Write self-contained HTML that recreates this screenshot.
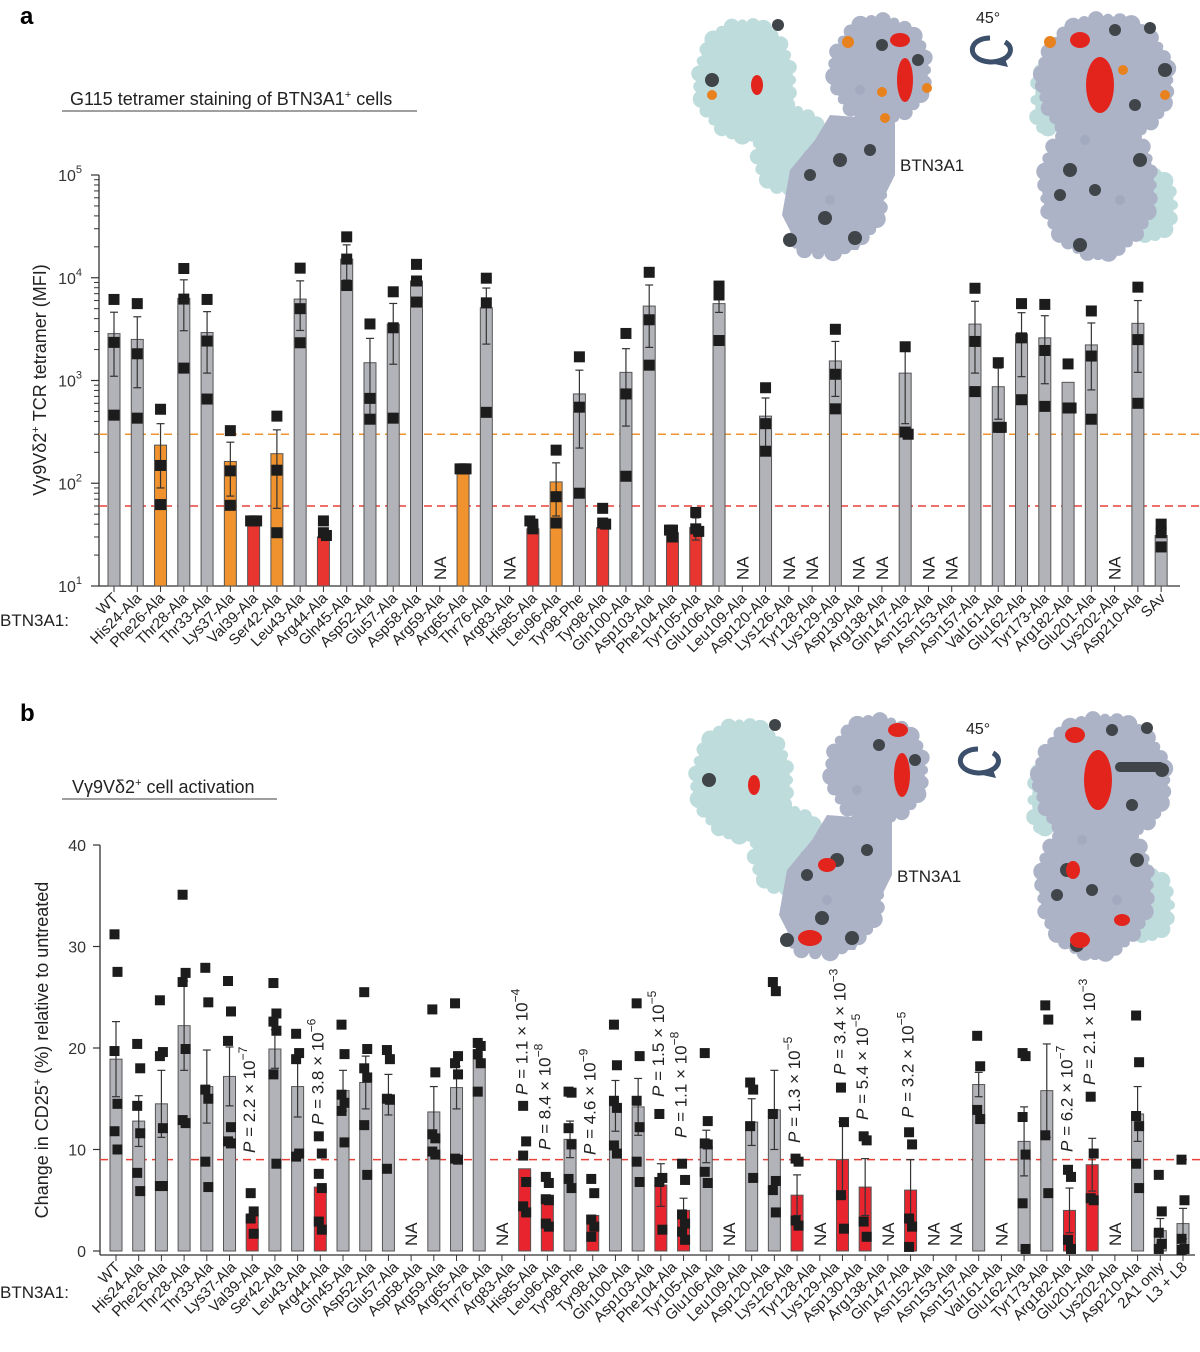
<!DOCTYPE html>
<html><head><meta charset="utf-8">
<style>
html,body{margin:0;padding:0;background:#fff;}
svg{display:block;font-family:"Liberation Sans",Arial,sans-serif;}
</style></head>
<body>
<svg id="fig" width="1200" height="1352" viewBox="0 0 1200 1352" xmlns="http://www.w3.org/2000/svg">
<defs>
  <g id="protA">
    <ellipse class="blob" cx="745" cy="80" rx="48" ry="58" fill="#bfdcdc"/>
    <ellipse class="blob" cx="790" cy="150" rx="34" ry="42" fill="#bfdcdc"/>
    <ellipse class="blob" cx="880" cy="70" rx="48" ry="52" fill="#acb3c7"/>
    <path d="M830,115 L895,120 L895,175 L870,225 L858,250 L800,250 L782,215 L790,170 L815,140 Z" fill="#acb3c7"/>
    <ellipse class="blob" cx="838" cy="195" rx="46" ry="52" fill="#acb3c7"/>
    <ellipse class="blob" cx="822" cy="240" rx="28" ry="14" fill="#acb3c7"/>
    <ellipse class="blob" cx="1045" cy="100" rx="10" ry="30" fill="#bfdcdc"/>
    <ellipse class="blob" cx="1150" cy="205" rx="24" ry="32" fill="#bfdcdc"/>
    <ellipse class="blob" cx="1105" cy="80" rx="66" ry="64" fill="#acb3c7"/>
    <ellipse class="blob" cx="1098" cy="185" rx="56" ry="72" fill="#acb3c7"/>
    <g fill="#9aa2b8" opacity="0.5">
      <circle cx="860" cy="90" r="5"/><circle cx="830" cy="200" r="5"/><circle cx="1085" cy="140" r="5"/><circle cx="1120" cy="200" r="5"/>
    </g>
    <g fill="#3f4548">
      <circle cx="712" cy="80" r="7"/><circle cx="778" cy="25" r="6"/><circle cx="840" cy="160" r="7"/>
      <circle cx="870" cy="150" r="6"/><circle cx="810" cy="175" r="6"/><circle cx="825" cy="218" r="7"/>
      <circle cx="790" cy="240" r="7"/><circle cx="855" cy="238" r="7"/><circle cx="882" cy="45" r="6"/>
      <circle cx="918" cy="60" r="6"/><circle cx="1115" cy="30" r="6"/><circle cx="1150" cy="28" r="6"/>
      <circle cx="1165" cy="70" r="7"/><circle cx="1140" cy="160" r="7"/><circle cx="1070" cy="170" r="7"/>
      <circle cx="1095" cy="190" r="6"/><circle cx="1060" cy="195" r="6"/><circle cx="1080" cy="245" r="7"/>
      <circle cx="1135" cy="105" r="6"/>
    </g>
  </g>
</defs>

<text x="20" y="24" font-size="24" font-weight="bold">a</text>
<text x="70" y="105" font-size="18" fill="#222">G115 tetramer staining of BTN3A1<tspan font-size="11" dy="-7">+</tspan><tspan dy="7"> cells</tspan></text>
<line x1="62" y1="111" x2="417" y2="111" stroke="#666" stroke-width="1.2"/>
<text x="20" y="721" font-size="24" font-weight="bold">b</text>
<text x="72" y="793" font-size="18" fill="#222">Vγ9Vδ2<tspan font-size="11" dy="-7">+</tspan><tspan dy="7"> cell activation</tspan></text>
<line x1="62" y1="799" x2="277" y2="799" stroke="#666" stroke-width="1.2"/>

<g>
  <use href="#protA"/>
  <g fill="#e3241d">
    <ellipse cx="757" cy="85" rx="6" ry="10"/><ellipse cx="900" cy="40" rx="10" ry="7"/>
    <ellipse cx="905" cy="80" rx="8" ry="22"/><ellipse cx="1080" cy="40" rx="10" ry="8"/>
    <ellipse cx="1100" cy="85" rx="14" ry="28"/>
  </g>
  <g fill="#e8821e">
    <circle cx="712" cy="95" r="5"/><circle cx="848" cy="42" r="6"/><circle cx="927" cy="88" r="5"/>
    <circle cx="1050" cy="42" r="6"/><circle cx="1123" cy="70" r="5"/><circle cx="1165" cy="95" r="5"/>
    <circle cx="885" cy="118" r="5"/><circle cx="882" cy="92" r="5"/>
  </g>
  <text x="900" y="171" font-size="17" fill="#222">BTN3A1</text>
  <text x="976" y="23" font-size="16" fill="#222">45°</text>
  <path d="M990,38 C968,38 965,60 990,62 C1010,62 1016,48 1005,42" fill="none" stroke="#3c4f6b" stroke-width="5"/>
  <path d="M1004,56 L1008,67 L990,63 Z" fill="#3c4f6b"/>
</g>
<g>
  <use href="#protA" transform="translate(-3,700)"/>
  <g fill="#e3241d">
    <ellipse cx="754" cy="785" rx="6" ry="10"/><ellipse cx="898" cy="730" rx="10" ry="7"/>
    <ellipse cx="902" cy="775" rx="8" ry="22"/><ellipse cx="827" cy="865" rx="9" ry="7"/>
    <ellipse cx="810" cy="938" rx="12" ry="8"/><ellipse cx="1075" cy="735" rx="10" ry="8"/>
    <ellipse cx="1098" cy="780" rx="14" ry="30"/><ellipse cx="1073" cy="870" rx="7" ry="9"/>
    <ellipse cx="1080" cy="940" rx="10" ry="8"/><ellipse cx="1122" cy="920" rx="8" ry="6"/>
  </g>
  <rect x="1115" y="762" width="50" height="10" rx="5" fill="#3f4548"/>
  <text x="897" y="882" font-size="17" fill="#222">BTN3A1</text>
  <text x="966" y="734" font-size="16" fill="#222">45°</text>
  <path d="M978,749 C956,749 953,771 978,773 C998,773 1004,759 993,753" fill="none" stroke="#3c4f6b" stroke-width="5"/>
  <path d="M992,767 L996,778 L978,774 Z" fill="#3c4f6b"/>
</g>

<g id="chartA"></g>
<g id="chartB"></g>
</svg>

<script>
const catsA = ["WT","His24-Ala","Phe26-Ala","Thr28-Ala","Thr33-Ala","Lys37-Ala","Val39-Ala","Ser42-Ala","Leu43-Ala","Arg44-Ala","Gln45-Ala","Asp52-Ala","Glu57-Ala","Asp58-Ala","Arg59-Ala","Arg65-Ala","Thr76-Ala","Arg83-Ala","His85-Ala","Leu96-Ala","Tyr98-Phe","Tyr98-Ala","Gln100-Ala","Asp103-Ala","Phe104-Ala","Tyr105-Ala","Glu106-Ala","Leu109-Ala","Asp120-Ala","Lys126-Ala","Tyr128-Ala","Lys129-Ala","Asp130-Ala","Arg138-Ala","Gln147-Ala","Asn152-Ala","Asn153-Ala","Asn157-Ala","Val161-Ala","Glu162-Ala","Tyr173-Ala","Arg182-Ala","Glu201-Ala","Lys202-Ala","Asp210-Ala","SAv"];
const meanA = [2860,2510,235,6300,2930,163,41,194,6200,30,15200,1490,3530,9300,null,128,5100,null,36,103,740,37,1200,5300,33,37,5600,null,450,null,null,1550,null,null,1180,null,null,3540,870,2830,2600,960,2220,null,3600,31];
const semA = [1760,1660,145,3250,1750,88,0,137,3130,0,5700,1080,2090,0,0,0,2840,0,0,55,520,0,840,3200,0,9,1000,0,226,0,0,850,0,0,800,0,0,2360,450,1740,1670,0,1410,0,2400,0];
const ptsA = [[6150,2350,460],[5600,1820,430],[525,149,62],[12300,6200,1320],[6150,2420,660],[325,132,61],[43,43,43],[450,134,33],[12400,5000,2330],[43,33,31],[25000,15200,8400],[3550,670,420],[7300,3260,430],[13500,9300,5800],[],[138,138,138],[9900,5700,490],[],[43,40,36],[210,74,41],[1700,550,80],[57,41,40],[2870,740,117],[11300,3900,1410],[35,35,30],[52,36,34],[8300,6800,2450],[],[850,380,205],[],[],[3150,1150,530],[],[],[2130,315,300],[],[],[7900,2400,780],[1490,350,350],[5600,2600,650],[5500,1960,560],[1450,540,540],[4750,1730,420],[],[8100,2500,600],[40,33,24]];
const groupA = ["g","g","o","g","g","o","r","o","g","r","g","g","g","g","n","o","g","n","r","o","g","r","g","g","r","r","g","n","g","n","n","g","n","n","g","n","n","g","g","g","g","g","g","n","g","g"];
const thresholdsA = [300,60];
const tickExpA = [1,2,3,4,5];

const labelsB = ["WT","His24-Ala","Phe26-Ala","Thr28-Ala","Thr33-Ala","Lys37-Ala","Val39-Ala","Ser42-Ala","Leu43-Ala","Arg44-Ala","Gln45-Ala","Asp52-Ala","Glu57-Ala","Asp58-Ala","Arg59-Ala","Arg65-Ala","Thr76-Ala","Arg83-Ala","His85-Ala","Leu96-Ala","Tyr98-Phe","Tyr98-Ala","Gln100-Ala","Asp103-Ala","Phe104-Ala","Tyr105-Ala","Glu106-Ala","Leu109-Ala","Asp120-Ala","Lys126-Ala","Tyr128-Ala","Lys129-Ala","Asp130-Ala","Arg138-Ala","Gln147-Ala","Asn152-Ala","Asn153-Ala","Asn157-Ala","Val161-Ala","Glu162-Ala","Tyr173-Ala","Arg182-Ala","Glu201-Ala","Lys202-Ala","Asp210-Ala","2A1 only","L3 + L8"];
const meanB = [18.9,12.8,14.5,22.2,16.2,17.2,3.5,19.9,16.2,6.3,15.8,16.6,15.4,null,13.7,16.1,18.9,null,8.1,5.5,11,3.5,14.3,14.2,6.5,4.0,10.3,null,12.7,13.9,5.5,null,9.0,6.3,null,6.0,null,null,16.4,null,10.8,15.8,4.0,8.5,null,13.5,2.0,2.7];
const semB = [3.7,2.5,3.3,4.4,3.6,2.9,0,1.9,3.0,0,2.0,2.6,2.0,0,2.5,2.1,0,0,0,0,1.8,0,2.5,2.8,2.1,1.2,1.6,0,2.3,3.9,2.0,0,3.7,2.8,0,3.0,0,0,1.2,0,3.4,4.6,2.2,2.6,0,2.7,1.2,1.5];
const ptsB = [[31.2,27.5,19.7,14.5,11.8,10],[20.4,18,14.3,11.6,7.7,5.9],[24.7,19.6,19.2,12.1,6.4,6.4],[35.1,27.4,26.5,19.9,12.9,12.6],[27.9,24.5,15.9,15,8.8,6.3],[26.6,23.6,20.7,12.2,10.8,10.6],[5.7,3.9,3.2,1.7],[26.4,23.4,22.6,21.7,17.4,8.6],[21.4,19.5,18.9,9.6,9.3],[11.3,9.6,7.6,6.2,2.9,2.1],[22.3,19.4,15.4,14.6,13.8,10.7],[25.5,19.9,18,17.1,12.4,7.5],[19.8,18.9,15,14.9,8.1],[],[23.8,17.6,11.5,11.1,9.8,9.5],[24.4,19.2,18.5,17.4,9.1,9],[20.5,20.2,19.4,18.5,15.7],[],[14.3,10.8,9.4,6.8,4.4,3.8],[7.3,6.7,5.1,5,2.7,2.4],[15.7,15.6,12.1,10.5,7.1,6.2],[7.1,5.7,3.1,2.4,1.4],[22.3,18.3,14.8,14.1,10.4,9.6],[24.4,19.2,14.8,12.2,8.8,6.8],[13.5,7.2,6.8,2.1],[8.6,7,3.6,2.7,1.9,1.1],[19.5,12.8,10.6,10.5,7.8,6.7],[],[16.6,15.9,12.3,7.2],[26.5,25.6,13.5,6.9,6,3.8],[9.1,8.8,3,2.5],[],[16.1,12.7,5.5,2.2],[11.3,10.9,2.9,1.4],[],[11.7,10.5,3.2,2.4,0.4],[],[],[21.2,18.2,13.9,13],[],[19.5,19.2,13.2,9.5,4.7,0.2],[24.2,22.8,11.4,5.7],[8,7.3,1.1,0.2],[15.2,9.6,5.2,5],[],[23.2,18.6,13.3,12.3,8.6,6.2],[7.5,3.9,1.8,0.7,0.2],[9,5,1.2,0.2,0.1]];
const redB = [6,9,18,19,21,24,25,30,32,33,35,42,43];
const thresholdB = 9;
const ticksB = [0,10,20,30,40];
const pIdx = [6,9,18,19,21,24,25,30,32,33,35,42,43];
const pMant = ["2.2","3.8","1.1","8.4","4.6","1.5","1.1","1.3","3.4","5.4","3.2","6.2","2.1"];
const pExp = ["−7","−6","−4","−8","−9","−5","−8","−5","−3","−5","−5","−7","−3"];
const pBottom = [1153,1125,1095,1150,1155,1097,1138,1143,1075,1120,1118,1152,1085];

const NS = "http://www.w3.org/2000/svg";
function mk(parent, tag, attrs){ const e=document.createElementNS(NS,tag); for(const k in attrs) e.setAttribute(k,attrs[k]); parent.appendChild(e); return e; }

// lumpy protein edges (decorative)
(function(){
  const prot=document.getElementById('protA');
  const blobs=[...prot.querySelectorAll('ellipse.blob')];
  blobs.forEach(b=>{
    const cx=+b.getAttribute('cx'),cy=+b.getAttribute('cy'),rx=+b.getAttribute('rx'),ry=+b.getAttribute('ry'),f=b.getAttribute('fill');
    const n=Math.max(10,Math.round((rx+ry)/4));
    for(let k=0;k<n;k++){
      const a=k/n*2*Math.PI; const r=5+((k*7)%5);
      const c=document.createElementNS(NS,'circle');
      c.setAttribute('cx',cx+Math.cos(a)*rx*0.96); c.setAttribute('cy',cy+Math.sin(a)*ry*0.96);
      c.setAttribute('r',r); c.setAttribute('fill',f);
      prot.insertBefore(c,b.nextSibling);
    }
  });
})();

(function(){
  const g = document.getElementById('chartA');
  const X0=114, DX=23.27, AX=99, YB=586, DEC=102.75;
  const xa = i => X0 + i*DX;
  const ya = v => YB - (Math.log10(v)-1)*DEC;
  const colors = {g:"#b2b3b8",o:"#f0922d",r:"#e8352f"};
  let e = mk(g,'line',{x1:AX,y1:ya(1e5),x2:AX,y2:YB,stroke:"#333","stroke-width":1.3});
   
  e = mk(g,'line',{x1:AX,y1:YB,x2:1180,y2:YB,stroke:"#333","stroke-width":1.3});
   
  tickExpA.forEach(p=>{
    const y=ya(Math.pow(10,p));
    mk(g,'line',{x1:AX-8,y1:y,x2:AX,y2:y,stroke:"#333","stroke-width":1.2});
    const t = mk(g,'text',{x:AX-17,y:y+6,"text-anchor":"end","font-size":16,fill:"#333"});
    t.textContent="10";
    const s=mk(t,'tspan',{dy:-8,"font-size":11}); s.textContent=String(p);
     
    if(p<5){ for(let m=2;m<10;m++){ const yy=ya(m*Math.pow(10,p)); mk(g,'line',{x1:AX-5,y1:yy,x2:AX,y2:yy,stroke:"#333","stroke-width":1}); } }
  });
  const yt = mk(g,'text',{x:0,y:0,transform:"translate(46,380) rotate(-90)","text-anchor":"middle","font-size":18,fill:"#222"});
  yt.innerHTML='Vγ9Vδ2<tspan font-size="11" dy="-7">+</tspan><tspan dy="7"> TCR tetramer (MFI)</tspan>';
   
  const tcols=["#f0922d","#e8413a"];
  thresholdsA.forEach((v,k)=>{
    const l=mk(g,'line',{x1:AX,y1:ya(v),x2:1200,y2:ya(v),stroke:tcols[k],"stroke-width":1.5,"stroke-dasharray":"8,5"});
    
    
  });
  catsA.forEach((c,i)=>{
    const x=xa(i);
    mk(g,'line',{x1:x,y1:YB,x2:x,y2:YB+6,stroke:"#333","stroke-width":1});
    const lab=mk(g,'text',{x:x+5,y:YB+13,transform:`rotate(-45 ${x+5} ${YB+13})`,"text-anchor":"end","font-size":15,fill:"#222"});
    lab.textContent=c;
     
    const m=meanA[i];
    if(m===null){
      const na=mk(g,'text',{x:0,y:0,transform:`translate(${x+6},${YB-6}) rotate(-90)`,"font-size":17,fill:"#222"});
      na.textContent="NA";
       
      return;
    }
    const b=mk(g,'rect',{x:x-6,y:ya(m),width:12,height:YB-ya(m),fill:colors[groupA[i]],stroke:"#555","stroke-width":1});
     
    if(semA[i]>0){
      const hi=ya(m+semA[i]), lo=ya(Math.max(m-semA[i],10.5));
      mk(g,'line',{x1:x,y1:hi,x2:x,y2:lo,stroke:"#333","stroke-width":1.2});
      mk(g,'line',{x1:x-4,y1:hi,x2:x+4,y2:hi,stroke:"#333","stroke-width":1.2});
      mk(g,'line',{x1:x-4,y1:lo,x2:x+4,y2:lo,stroke:"#333","stroke-width":1.2});
    }
    ptsA[i].forEach((v,k)=>{
      const off = (ptsA[i].filter(w=>Math.abs(Math.log10(w)-Math.log10(v))<0.04).length>1) ? (k-1)*3 : 0;
      const p=mk(g,'rect',{x:x-5.5+off,y:ya(v)-5.5,width:11,height:11,fill:"#1c1c1c"});
       
    });
  });
  const bl=mk(g,'text',{x:0,y:626,"font-size":17,fill:"#222"}); bl.textContent="BTN3A1:";
   
})();

(function(){
  const g=document.getElementById('chartB');
  const X0=116, AX=100, YB=1251;
  const n=ptsB.length; const DX=(1183-116)/(n-1);
  const xb=i=>X0+i*DX;
  const yb=v=>YB - v*10.15;
  let e=mk(g,'line',{x1:AX,y1:yb(40),x2:AX,y2:YB+4,stroke:"#333","stroke-width":1.3});
   
  e=mk(g,'line',{x1:AX,y1:YB+4,x2:1195,y2:YB+4,stroke:"#333","stroke-width":1.3});
   
  ticksB.forEach(v=>{
    const y=yb(v);
    mk(g,'line',{x1:AX-7,y1:y,x2:AX,y2:y,stroke:"#333","stroke-width":1.2});
    const t=mk(g,'text',{x:AX-14,y:y+6,"text-anchor":"end","font-size":16,fill:"#333"}); t.textContent=String(v);
     
  });
  const yt=mk(g,'text',{x:0,y:0,transform:"translate(48,1050) rotate(-90)","text-anchor":"middle","font-size":18,fill:"#222"});
  yt.innerHTML='Change in CD25<tspan font-size="11" dy="-7">+</tspan><tspan dy="7"> (%) relative to untreated</tspan>';
   
  const th=mk(g,'line',{x1:AX,y1:yb(thresholdB),x2:1200,y2:yb(thresholdB),stroke:"#e8413a","stroke-width":1.5,"stroke-dasharray":"8,5"});
   
  const LDX=(1183-116)/(labelsB.length-1);
  labelsB.forEach((c,i)=>{
    const x=X0+i*LDX;
    const lab=mk(g,'text',{x:x+5,y:YB+17,transform:`rotate(-45 ${x+5} ${YB+17})`,"text-anchor":"end","font-size":15,fill:"#222"});
    lab.textContent=c;
     
  });
  ptsB.forEach((pts,i)=>{
    const x=xb(i);
    mk(g,'line',{x1:x,y1:YB+4,x2:x,y2:YB+10,stroke:"#333","stroke-width":1});
    const m=meanB[i];
    if(m===null){
      const na=mk(g,'text',{x:0,y:0,transform:`translate(${x+6},${YB-5}) rotate(-90)`,"font-size":17,fill:"#222"});
      na.textContent="NA";
       
      return;
    }
    const red=redB.indexOf(i)>=0;
    const b=mk(g,'rect',{x:x-6,y:yb(m),width:12,height:YB-yb(m),fill:red?"#e8252f":"#b2b3b8",stroke:"#555","stroke-width":1});
     
    if(semB[i]>0){
      const hi=yb(m+semB[i]), lo=yb(Math.max(m-semB[i],0));
      mk(g,'line',{x1:x,y1:hi,x2:x,y2:lo,stroke:"#333","stroke-width":1.2});
      mk(g,'line',{x1:x-4,y1:hi,x2:x+4,y2:hi,stroke:"#333","stroke-width":1.2});
      mk(g,'line',{x1:x-4,y1:lo,x2:x+4,y2:lo,stroke:"#333","stroke-width":1.2});
    }
    pts.forEach((v,k)=>{
      const off=(k%2===0)?-1.5:1.5;
      const p=mk(g,'rect',{x:x-5+off,y:yb(v)-5,width:10,height:10,fill:"#1c1c1c"});
       
    });
  });
  pIdx.forEach((i,k)=>{
    const x=xb(i)-3;
    const t=mk(g,'text',{x:0,y:0,transform:`translate(${x+6},${pBottom[k]}) rotate(-90)`,"font-size":17,fill:"#222"});
    t.innerHTML=`<tspan font-style="italic">P</tspan> = ${pMant[k]} × 10<tspan font-size="12" dy="-8">${pExp[k]}</tspan>`;
     
  });
  const bl=mk(g,'text',{x:0,y:1298,"font-size":17,fill:"#222"}); bl.textContent="BTN3A1:";
   
})();
</script>
</body></html>
